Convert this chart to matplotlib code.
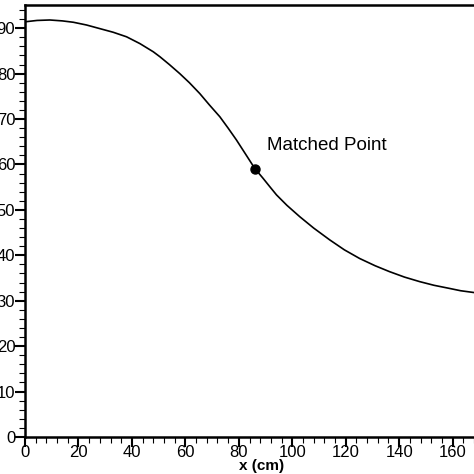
import matplotlib
matplotlib.use("Agg")
import matplotlib.pyplot as plt
from matplotlib.ticker import MultipleLocator

# values
x_cm = [0, 4.5, 9.3, 14, 18.1, 23, 28, 33, 38, 43, 48, 50.5, 54, 57.9, 61.5, 65.4,
        69, 72.9, 76, 79.1, 82.5, 86, 89, 91.6, 94.1, 98, 102.8, 108, 114, 119.5,
        125.2, 131, 136.4, 142, 147.7, 153, 158.9, 163, 168]
y_val = [91.4, 91.7, 91.8, 91.6, 91.3, 90.7, 89.9, 89.1, 88.1, 86.6, 84.8, 83.7, 82.0,
         80.0, 78.0, 75.6, 73.1, 70.5, 68.0, 65.4, 62.3, 59.1, 57.0, 55.1, 53.3, 51.0,
         48.5, 46.0, 43.4, 41.2, 39.3, 37.7, 36.4, 35.2, 34.2, 33.4, 32.7, 32.2, 31.8]

matched_x = 86
matched_y = 59.1
matched_label = "Matched Point"

plt.rcParams['font.family'] = ['Liberation Sans', 'DejaVu Sans']

fig = plt.figure(figsize=(4.74, 4.74), dpi=100)
ax = fig.add_axes([25/474, 37/474, 1 - 25/474, 432/474])

ax.plot(x_cm, y_val, color='black', lw=1.2, solid_joinstyle='round')
ax.plot([matched_x], [matched_y], 'o', color='black', ms=6.5)
ax.text(matched_x + 4.5, matched_y + 5.1, matched_label, fontsize=13.5, va='center', ha='left')

ax.set_xlim(0, 168)
ax.set_ylim(0, 95.1)
ax.xaxis.set_major_locator(MultipleLocator(20))
ax.xaxis.set_minor_locator(MultipleLocator(4))
ax.yaxis.set_major_locator(MultipleLocator(10))
ax.yaxis.set_minor_locator(MultipleLocator(2))

ax.tick_params(which='major', length=7, width=1.5, labelsize=12, pad=0)
ax.tick_params(axis='x', which='major', pad=-1)
ax.tick_params(which='minor', length=4, width=0.8)

for s in ['left', 'bottom', 'top']:
    ax.spines[s].set_linewidth(1.8)
ax.spines['right'].set_visible(False)

ax.set_xlabel("x (cm)", fontweight='bold', fontsize=11)
ax.xaxis.set_label_coords(0.526, -0.05)

fig.savefig("out.png", dpi=100)
